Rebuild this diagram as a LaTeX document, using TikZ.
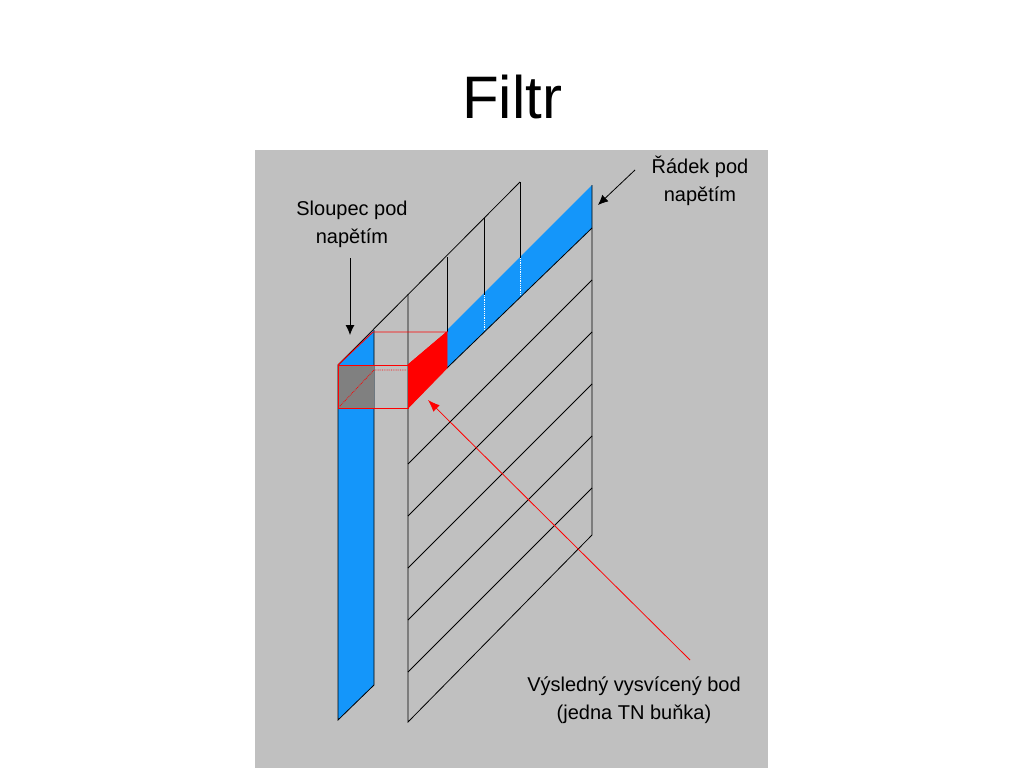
\documentclass[tikz,border=0pt]{standalone}
\usepackage{fontspec}
\setmainfont{Liberation Sans}
\usetikzlibrary{arrows.meta}
\begin{document}
\begin{tikzpicture}[x=1pt,y=-1pt,
  blu/.style={fill={rgb,255:red,20;green,150;blue,250}},
  ln/.style={draw=black,line width=0.8pt},
  rd/.style={draw=red,line width=0.9pt},
  lbl/.style={font=\fontsize{20}{28}\selectfont,align=center,inner sep=0pt}]
\useasboundingbox (0,0) rectangle (1024,768);
\fill[white] (0,0) rectangle (1024,768);
\fill[fill={rgb,255:red,192;green,192;blue,192}] (255,150) rectangle (768,768);
\node[font=\fontsize{60}{66}\selectfont] (title) at (512,97) {Filtr};
% column strip
\path[blu] (338,365) -- (374,330) -- (374,685) -- (338,720) -- cycle;
\draw[ln] (338,365) -- (338,720) -- (374,685) -- (374,330);
% row strip
\path[blu] (447,330) -- (592,185) -- (592,228) -- (447,368) -- cycle;
% back plate top edge and verticals
\draw[ln] (338,365) -- (520,182);
\draw[ln] (447,257) -- (447,332);
\draw[ln] (484,218) -- (484,295);
\draw[ln] (520,182) -- (520,258);
\draw[white,densely dotted,line width=0.8pt] (484,295) -- (484,330) (520,258) -- (520,295);
% front plate
\draw[ln] (408,294) -- (408,722) -- (592,535) -- (592,185);
\draw[ln] (447,368) -- (592,228);
\foreach \y in {280,332,384,436,488} \draw[ln] (408,\y+184) -- (592,\y);
% cube
\fill[gray] (338,365) rectangle (374,408);
\fill[red] (408,365) -- (447,332) -- (447,368) -- (408,408) -- cycle;
\draw[rd] (338,365) rectangle (408,408);
\draw[rd] (338,365) -- (373,332) -- (447,332) -- (408,365);
\draw[rd] (408,365) -- (447,332) -- (447,368) -- (408,408);
\draw[red,densely dotted,line width=0.8pt] (340,406) -- (374,370) -- (406,370);
% labels
\node[lbl] (col) at (352,224) {Sloupec pod\\napětím};
\node[lbl] (row) at (700,181) {Řádek pod\\napětím};
\node[lbl] (pt) at (634,700) {Výsledný vysvícený bod\\(jedna TN buňka)};
\coordinate (ca) at (350,335);
\coordinate (ra) at (598,205);
\coordinate (pa) at (428,400);
\draw[-{Latex[length=10pt,width=9pt]},line width=0.8pt] (350,258) -- (ca);
\draw[-{Latex[length=10pt,width=9pt]},line width=0.8pt] (635,170) -- (ra);
\draw[red,-{Latex[length=12pt,width=9pt]},line width=0.8pt] (690,660) -- (pa);
\end{tikzpicture}
\end{document}
